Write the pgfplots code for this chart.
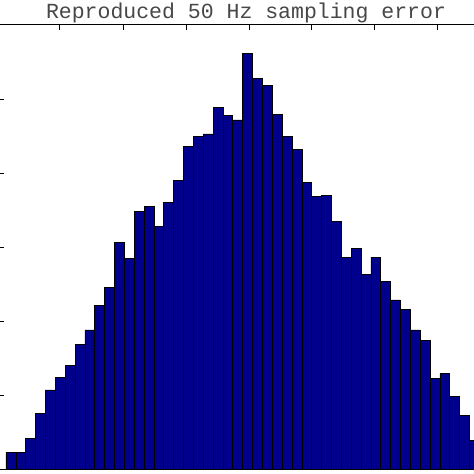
\documentclass[border=0pt]{standalone}
\usepackage{fontspec}
\usepackage{pgfplots}
\pgfplotsset{compat=1.18}
\newfontfamily\monofont{Liberation Mono}
\definecolor{matblue}{RGB}{0,0,140}
\pgfplotstableread{
x y
6.00 4.6
15.86 4.6
25.72 8.4
35.58 15.2
45.44 21.5
55.30 24.9
65.16 28.0
75.02 33.7
84.88 37.7
94.74 44.2
104.60 49.2
114.46 61.3
124.32 56.9
134.18 69.6
144.04 71.0
153.90 65.6
163.76 72.1
173.62 78.1
183.48 87.2
193.34 89.9
203.20 90.6
213.06 97.7
222.92 95.5
232.78 94.4
242.64 112.4
252.50 105.5
262.36 103.6
272.22 95.8
282.08 89.9
291.94 86.5
301.80 77.5
311.66 73.8
321.52 74.1
331.38 66.9
341.24 57.3
351.10 59.7
360.96 52.6
370.82 57.3
380.68 50.7
390.54 45.8
400.40 43.3
410.26 37.7
420.12 34.8
429.98 24.5
439.84 25.9
449.70 19.7
459.56 14.5
469.42 7.8
479.28 7.8
}\errdata
\begin{document}
\begin{tikzpicture}
\path[use as bounding box] (0,0) rectangle (474pt,474pt);
\clip (0,0) rectangle (474pt,474pt);
\begin{axis}[
  at={(-1pt,4.5pt)}, anchor=south west,
  width=494pt, height=444.5pt, scale only axis,
  xmin=-1, xmax=493, ymin=0, ymax=120,
  xtick={59,123,186,249,311,374,437},
  ytick={20,40,60,80,100},
  xticklabels={}, yticklabels={},
  tick align=inside, major tick length=5pt,
  xtick pos=both, ytick pos=both,
  tick style={black, line width=0.8pt},
  axis line style={black, line width=1pt},
  clip=false,
]
\addplot[ybar interval, fill=matblue, draw=black, line width=0.6pt] table[x=x,y=y] {\errdata};
\node[anchor=base, text=black!72, font=\monofont\fontsize{21.5}{24}\selectfont]
  at (rel axis cs:0.5,1) [yshift=6.7pt] {Reproduced 50 Hz sampling error};
\end{axis}
\end{tikzpicture}
\end{document}
